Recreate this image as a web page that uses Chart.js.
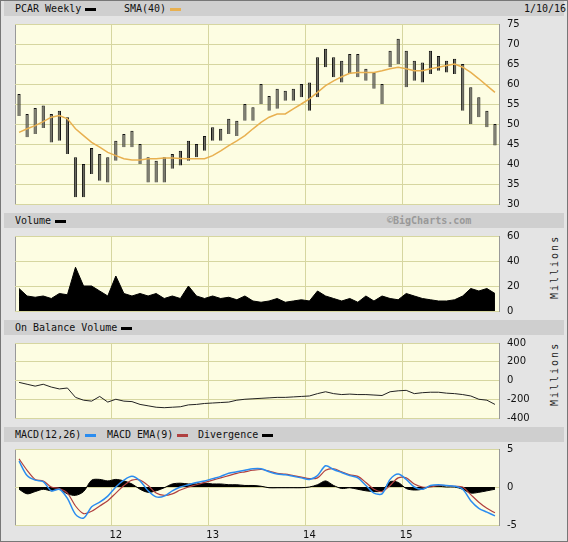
<!DOCTYPE html>
<html><head><meta charset="utf-8">
<script src="https://cdn.jsdelivr.net/npm/chart.js@4.4.0/dist/chart.umd.min.js"></script>
<style>
body{margin:0;background:#fff}
#wrap{position:relative;width:566px;height:540px;border:1px solid #777;background:#e4e4e4;overflow:hidden}
.hdr{position:absolute;left:3px;width:560px;height:15px;background:#cfcfcf;font:10px "DejaVu Sans Mono",monospace;color:#111;line-height:15px}
.hdr span{position:absolute;top:0}
.sw{display:inline-block;width:11px;height:3px;vertical-align:middle;margin-left:4px}
canvas{position:absolute;left:0}
.mil{position:absolute;left:548px;font:10px "DejaVu Sans Mono",monospace;transform:rotate(-90deg);transform-origin:left top;color:#222;letter-spacing:2px}
</style></head><body>
<div id="wrap">
  <div class="hdr" style="top:0"><span style="left:11px">PCAR Weekly<i class="sw" style="background:#000"></i></span><span style="left:120px">SMA(40)<i class="sw" style="background:#e8b050"></i></span><span style="left:520px">1/10/16</span></div>
  <div class="hdr" style="top:212px"><span style="left:11px">Volume<i class="sw" style="background:#000"></i></span><span style="left:383px;color:#999;font-weight:bold">©BigCharts.com</span></div>
  <div class="hdr" style="top:319px"><span style="left:11px">On Balance Volume<i class="sw" style="background:#000"></i></span></div>
  <div class="hdr" style="top:426px"><span style="left:11px">MACD(12,26)<i class="sw" style="background:#2a8cf0"></i></span><span style="left:103px">MACD EMA(9)<i class="sw" style="background:#b04040"></i></span><span style="left:194px">Divergence<i class="sw" style="background:#000"></i></span></div>
  <div class="mil" style="top:298px">Millions</div>
  <div class="mil" style="top:405px">Millions</div>
  <canvas id="cPrice" width="568" height="208" style="top:9px"></canvas>
  <canvas id="cVol" width="568" height="103" style="top:221px"></canvas>
  <canvas id="cObv" width="568" height="103" style="top:328px"></canvas>
  <canvas id="cMacd" width="568" height="110" style="top:434px"></canvas>
</div>
<script>
const months = [];
for (let y = 2011; y <= 2015; y++) for (let m = 1; m <= 12; m++) months.push(y + '-' + String(m).padStart(2, '0'));

const priceLow = [52,46.7,47.5,49,45.4,45.8,42.5,31.7,31.7,37.5,35.8,35.4,
  40.8,44.2,44.2,40,35.4,35.4,35.4,38.8,39.6,40.8,41.7,43.3,
  45.8,45.8,47.5,47,50.8,50.8,55,53.3,53.8,55.8,55.8,56.7,
  53.3,56.7,64.2,61.7,60.4,62.5,61.7,60.8,58.8,55,64.2,65,
  59.2,60.8,60.4,62.5,63.3,62.9,62.5,53.3,50,51.7,49.2,44.6];
const priceHigh = [57.5,52.5,54,54.6,52.5,53.3,51.7,41.7,40,44,42.5,41.7,
  45.8,47.5,48.3,45,41.7,40.8,41.7,42.5,43.3,45.8,45,47,
  49.2,48.8,51.3,50.8,55,54.2,60,57,58.8,58.3,58.8,60,
  60.4,66.7,68.8,66.7,65.8,67.5,67.5,63.8,62.9,60,68.3,71.3,
  68.3,65.8,65.4,68.3,67,65.8,66.3,65,59.2,56.7,53.3,50];
const sma40 = [47.9,48.8,49.6,50.6,51.7,52.1,51.3,48.8,47.1,45.4,44.2,42.9,
  42.1,41.3,41,41,41.3,41.3,41.5,41.5,41.4,41.3,41.3,41.3,
  42.1,43.3,44.6,45.8,47.1,48.8,50.4,51.7,52.5,52.5,53.8,55,
  56.3,57.9,59.6,60.8,61.8,62.7,62.9,62.9,62.9,63.3,63.8,64.2,
  63.8,63.3,63.3,63.8,64.2,64.6,65,64.2,62.9,61.3,59.6,57.9];
const volume = [18,12,11,12,10,14,13,35,20,20,16,12,
  28,14,12,14,12,14,10,12,10,20,12,10,
  12,10,11,9,12,8,7,8,10,7,8,9,
  8,16,12,10,8,10,7,12,8,12,10,9,
  14,12,10,9,8,8,9,12,18,16,18,14];
const obv = [-20,-40,-60,-40,-70,-90,-80,-180,-210,-220,-170,-230,
  -200,-220,-225,-255,-270,-285,-290,-285,-280,-260,-255,-245,
  -240,-235,-230,-210,-200,-195,-190,-185,-180,-180,-175,-170,
  -165,-140,-120,-140,-150,-145,-150,-150,-155,-160,-120,-110,
  -105,-140,-130,-125,-125,-135,-140,-150,-165,-200,-210,-255];
const macd = [3.4,1.5,0.9,0.7,-0.5,-0.3,-1.5,-3.6,-4.1,-2.6,-2.0,-1.2,
  0.0,0.9,1.4,0.8,-0.5,-1.3,-1.2,-0.5,0.0,0.3,0.6,0.8,
  1.1,1.4,1.8,2.0,2.2,2.4,2.4,2.0,1.7,1.6,1.4,1.2,
  1.0,1.5,2.8,2.3,1.9,1.5,1.2,0.2,-0.8,-0.9,1.0,1.7,
  1.0,0.0,-0.3,0.2,0.3,0.2,0.1,-0.3,-1.8,-2.8,-3.3,-3.8];
const macdEma = [3.7,2.2,1.0,0.8,0.0,-0.2,-0.8,-2.5,-3.5,-3.2,-2.5,-1.8,
  -0.8,0.2,0.9,0.9,0.2,-0.8,-1.1,-0.9,-0.4,0.0,0.3,0.6,
  0.9,1.2,1.5,1.8,2.0,2.2,2.3,2.1,1.8,1.7,1.5,1.3,
  1.1,1.2,2.2,2.4,2.0,1.6,1.4,0.6,-0.3,-0.6,0.2,1.2,
  1.2,0.4,0.0,0.0,0.2,0.2,0.1,0.0,-1.0,-2.0,-2.8,-3.4];
const divergence = [-0.3,-0.9,-0.6,-0.3,-0.5,-0.3,-0.9,-1.1,-0.6,0.9,1.0,0.8,
  1.0,0.8,0.4,-0.3,-0.7,-0.5,-0.1,0.4,0.5,0.4,0.4,0.5,
  0.4,0.4,0.3,0.3,0.2,0.2,0.1,-0.1,-0.1,-0.1,-0.1,-0.1,
  0.0,0.3,0.8,0.2,-0.2,-0.1,-0.3,-0.5,-0.6,-0.5,0.7,0.6,
  -0.2,-0.4,-0.3,0.1,0.1,0.0,0.0,-0.3,-0.8,-0.7,-0.5,-0.3];

const gridCol = '#d6d6a0';
const bgPlugin = {
  id: 'bg',
  beforeDraw(c) {
    const a = c.chartArea, g = c.ctx;
    g.save(); g.fillStyle = '#fdfde2'; g.fillRect(a.left, a.top, a.right - a.left, a.bottom - a.top);
    g.strokeStyle = '#999'; g.lineWidth = 1; g.strokeRect(a.left + 0.5, a.top + 0.5, a.right - a.left, a.bottom - a.top);
    g.restore();
  }
};
Chart.defaults.font.family = 'DejaVu Sans';
Chart.defaults.font.size = 10;
Chart.defaults.color = '#111';
Chart.defaults.animation = false;

function xAxis(showLabels) {
  return {
    type: 'category', offset: true,
    grid: { offset: true, drawTicks: false, color: ctx => (ctx.index % 12 === 0 && ctx.index > 0) ? gridCol : 'transparent' },
    border: { display: false },
    ticks: { display: showLabels, autoSkip: false, maxRotation: 0, padding: 4,
      callback: (v, i) => (i % 12 === 0 && i > 0) ? months[i].slice(2, 4) : '' }
  };
}
function yAxis(min, max, step, extra) {
  return Object.assign({
    position: 'right', min, max,
    grid: { color: gridCol, drawTicks: false }, border: { display: false },
    ticks: { stepSize: step, padding: 8 },
    afterFit: s => { s.width = 70; }
  }, extra || {});
}
function opts(x, y) {
  return { responsive: false, layout: { padding: { left: 14, top: 0, bottom: 0 } },
    plugins: { legend: { display: false }, tooltip: { enabled: false } },
    scales: { x, y } };
}

new Chart(document.getElementById('cPrice'), {
  type: 'bar',
  data: { labels: months, datasets: [
    { type: 'line', data: sma40, borderColor: '#e8b050', borderWidth: 1.5, pointRadius: 0, order: 0 },
    { data: priceLow.map((l, i) => [l, priceHigh[i]]), backgroundColor: '#6a6a60', borderColor: '#111', borderWidth: 1, barPercentage: 0.4, categoryPercentage: 1, order: 1 }
  ] },
  options: opts(xAxis(false), yAxis(30, 75, 5)),
  plugins: [bgPlugin]
});

new Chart(document.getElementById('cVol'), {
  type: 'line',
  data: { labels: months, datasets: [
    { data: volume, borderColor: '#000', backgroundColor: '#000', fill: 'origin', borderWidth: 1, pointRadius: 0 }
  ] },
  options: opts(xAxis(false), yAxis(0, 60, 20)),
  plugins: [bgPlugin]
});

new Chart(document.getElementById('cObv'), {
  type: 'line',
  data: { labels: months, datasets: [
    { data: obv, borderColor: '#222', borderWidth: 1, pointRadius: 0 }
  ] },
  options: opts(xAxis(false), yAxis(-400, 400, 200)),
  plugins: [bgPlugin]
});

new Chart(document.getElementById('cMacd'), {
  type: 'line',
  data: { labels: months, datasets: [
    { data: macd, borderColor: '#2a8cf0', borderWidth: 1.5, pointRadius: 0, tension: 0.3 },
    { data: macdEma, borderColor: '#b04040', borderWidth: 1.2, pointRadius: 0, tension: 0.3 },
    { data: divergence, borderColor: '#000', backgroundColor: '#000', fill: 'origin', borderWidth: 1, pointRadius: 0, tension: 0.3 }
  ] },
  options: opts(xAxis(true), yAxis(-5, 5, 5)),
  plugins: [bgPlugin]
});
</script>
</body></html>
